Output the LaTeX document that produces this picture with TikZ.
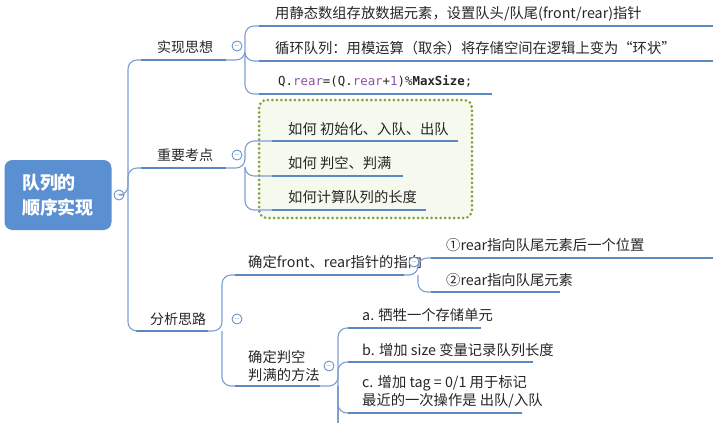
\documentclass[tikz,border=0pt]{standalone}
\usepackage{fontspec}
\setmainfont{Noto Sans CJK SC}
\newfontfamily\codefont{DejaVu Sans Mono}
\definecolor{barblue}{HTML}{5B87C5}
\definecolor{rootblue}{HTML}{5A8FD2}
\definecolor{tagpurple}{HTML}{8A4FA8}
\definecolor{boxgreen}{HTML}{7FA33A}
\definecolor{boxfill}{HTML}{F6FAEE}
\begin{document}
\begin{tikzpicture}[x=1pt,y=-1pt]
        \tikzset{bar/.style = {draw=barblue,line width=2.6pt}}
        \tikzset{link/.style = {draw=barblue!80,line width=1.1pt,rounded corners=9pt}}
        \tikzset{fold/.style = {shape=circle,draw=barblue,line width=0.8pt,fill=white,minimum size=10pt,inner sep=0pt,
                font=\fontsize{7}{7}\selectfont,text=barblue}}
        \tikzset{topic/.style = {anchor=west,font=\fontsize{14}{17}\selectfont,text=black!85,inner sep=0pt}}
        \tikzset{leaf/.style = {anchor=west,font=\fontsize{14.3}{17.5}\selectfont,text=black!85,inner sep=0pt,align=left}}

        \useasboundingbox (0,0) rectangle (713,423);

        % root
        \node[fill=rootblue,rounded corners=8pt,minimum width=107pt,minimum height=70pt,
              text=white,font=\fontsize{18}{25}\selectfont\bfseries,align=left] (Root) at (58,195) {队列的\\顺序实现};
        \node[fold] (RootF) at (119,195) {$-$};

        % important points box
        \draw[boxgreen,fill=boxfill,line width=3pt,line cap=round,dash pattern=on 0pt off 4.5pt,rounded corners=8pt]
              (259,100) rectangle (472,218);

        % first level
        \node[topic] (T1) at (157,47) {实现思想};
        \node[topic] (T2) at (157,155) {重要考点};
        \node[topic] (T3) at (150,319) {分析思路};
        \node[fold] (F1) at (237,46) {$-$};
        \node[fold] (F2) at (237,155) {$-$};
        \node[fold] (F3) at (237,319) {$-$};
        \draw[bar] (141,60) -- (226,60) coordinate (E1);
        \draw[bar] (141,168) -- (226,168) coordinate (E2);
        \draw[bar] (136,331) -- (208,331) coordinate (E3);

        \draw[link] (RootF) -- (128,195) |- (141,60);
        \draw[link] (128,195) |- (141,168);
        \draw[link] (128,195) |- (136,331);

        % 实现思想
        \node[leaf] (A1) at (275,14) {用静态数组存放数据元素，设置队头/队尾(front/rear)指针};
        \node[leaf] (A2) at (275,48) {循环队列：用模运算（取余）将存储空间在逻辑上变为“环状”};
        \node[leaf] (A3) at (278,81) {\codefont\fontsize{12.4}{14}\selectfont Q.\textcolor{tagpurple}{rear}=(Q.\textcolor{tagpurple}{rear}+\textcolor{tagpurple}{1})\%\textbf{MaxSize};};
        \draw[bar] (259,26) -- (720,26);
        \draw[bar] (259,61) -- (713,61);
        \draw[bar] (259,94) -- (492,94);
        \draw[link] (E1) -- (245,60) |- (259,26);
        \draw[link] (245,60) |- (259,61);
        \draw[link] (245,60) |- (259,94);

        % 重要考点
        \node[leaf] (B1) at (288,129) {如何 初始化、入队、出队};
        \node[leaf] (B2) at (288,163) {如何 判空、判满};
        \node[leaf] (B3) at (288,197) {如何计算队列的长度};
        \draw[bar] (272,141) -- (458,141);
        \draw[bar] (272,176) -- (403,176);
        \draw[bar] (272,210) -- (426,210);
        \draw[link] (E2) -- (245,168) |- (272,141);
        \draw[link] (245,168) |- (272,176);
        \draw[link] (245,168) |- (272,210);

        % 分析思路
        \node[leaf] (C1) at (248,262) {确定front、rear指针的指向};
        \node[leaf] (C2) at (248,366) {确定判空\\判满的方法};
        \node[fold] (FC1) at (414,262) {$-$};
        \node[fold] (FC2) at (329,366) {$-$};
        \draw[bar] (235,275) -- (404,275) coordinate (EC1);
        \draw[bar] (235,386) -- (320,386) coordinate (EC2);
        \draw[link] (E3) -- (222,331) |- (235,275);
        \draw[link] (222,331) |- (235,386);

        \node[leaf] (D1) at (446,245) {①rear指向队尾元素后一个位置};
        \node[leaf] (D2) at (446,280) {②rear指向队尾元素};
        \draw[bar] (431,258) -- (713,258);
        \draw[bar] (431,292) -- (560,292);
        \draw[link] (EC1) -- (418,275) |- (431,258);
        \draw[link] (418,275) |- (431,292);

        \node[leaf] (G1) at (362,315) {a. 牺牲一个存储单元};
        \node[leaf] (G2) at (362,350) {b. 增加 size 变量记录队列长度};
        \node[leaf] (G3) at (362,392) {c. 增加 tag = 0/1 用于标记\\最近的一次操作是 出队/入队};
        \draw[bar] (348,328) -- (481,328);
        \draw[bar] (348,362) -- (533,362);
        \draw[bar] (348,413) -- (522,413);
        \draw[link] (EC2) -- (338,386) |- (348,328);
        \draw[link] (338,386) |- (348,362);
        \draw[link] (338,386) |- (348,413);
        \draw[link] (338,386) -- (338,423);
\end{tikzpicture}
\end{document}
